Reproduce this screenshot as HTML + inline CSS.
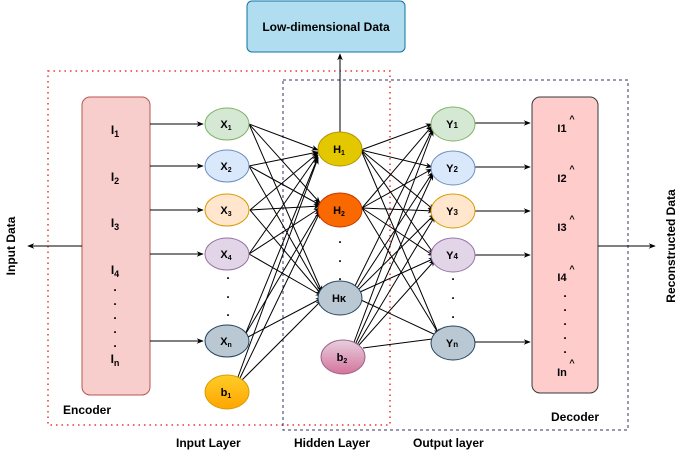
<!DOCTYPE html>
<html><head><meta charset="utf-8"><style>
body{margin:0;background:#fff;}
svg text{font-family:"Liberation Sans",sans-serif;font-weight:bold;}
</style></head><body>
<svg width="685" height="455" viewBox="0 0 685 455" xmlns="http://www.w3.org/2000/svg">
<defs>
<marker id="a" viewBox="0 0 10 10" refX="9" refY="5" markerWidth="7" markerHeight="7" orient="auto"><path d="M0,1 L10,5 L0,9 L3,5z" fill="#000"/></marker>
<linearGradient id="gb1" x1="0" y1="0" x2="0" y2="1"><stop offset="0" stop-color="#ffcd28"/><stop offset="1" stop-color="#ffa500"/></linearGradient>
<linearGradient id="gb2" x1="0" y1="0" x2="0" y2="1"><stop offset="0" stop-color="#e6d0de"/><stop offset="1" stop-color="#d5739d"/></linearGradient>
</defs>
<rect x="48" y="71" width="342" height="354" fill="none" stroke="#e33" stroke-width="1.5" stroke-dasharray="1.5,4"/>
<rect x="283" y="80" width="345" height="350" fill="none" stroke="#336" stroke-width="1" stroke-dasharray="3,3"/>
<rect x="247" y="1" width="158" height="51" rx="5" fill="#b1ddf0" stroke="#10739e" stroke-width="1"/>
<text x="326" y="31" font-size="12" text-anchor="middle">Low-dimensional Data</text>
<line x1="340" y1="132" x2="340" y2="54" stroke="#000" marker-end="url(#a)"/>
<rect x="82" y="97" width="68" height="298" rx="8" fill="#f8cecc" stroke="#b85450"/>
<rect x="532" y="97" width="66" height="296" rx="8" fill="#ffcccc" stroke="#36393d"/>
<line x1="82" y1="246" x2="28" y2="246" stroke="#000" marker-end="url(#a)"/>
<line x1="598" y1="246" x2="655" y2="246" stroke="#000" marker-end="url(#a)"/>
<text transform="translate(15,246) rotate(-90)" font-size="12" text-anchor="middle">Input Data</text>
<text transform="translate(675,246) rotate(-90)" font-size="12" text-anchor="middle">Reconstructed Data</text>
<g stroke="#000" stroke-width="1" fill="none" marker-end="url(#a)">
<line x1="150" y1="124" x2="203" y2="124"/>
<line x1="150" y1="166" x2="203" y2="166"/>
<line x1="150" y1="210" x2="203" y2="210"/>
<line x1="150" y1="254" x2="203" y2="254"/>
<line x1="150" y1="341" x2="203" y2="341"/>
<line x1="475" y1="123" x2="530" y2="123"/>
<line x1="475" y1="167" x2="530" y2="167"/>
<line x1="475" y1="211" x2="530" y2="211"/>
<line x1="475" y1="255" x2="530" y2="255"/>
<line x1="475" y1="342" x2="530" y2="342"/>
<path d="M249,124L318,150"/><path d="M249,124L320,203"/><path d="M249,124L322,292"/>
<path d="M249,166L318,152"/><path d="M249,166L320,205"/><path d="M249,166L322,294"/>
<path d="M250,210L318,153"/><path d="M250,210L320,206"/><path d="M250,210L322,295"/>
<path d="M249,254L318,155"/><path d="M249,254L320,208"/><path d="M249,254L322,296"/>
<path d="M245,335L318,157"/><path d="M245,335L320,210"/><path d="M248,337L322,298"/>
<path d="M238,377L318,158"/><path d="M240,378L320,212"/><path d="M242,380L322,300"/>
<path d="M361,150L432,124"/><path d="M361,150L432,167"/><path d="M361,150L434,210"/><path d="M361,150L434,254"/><path d="M361,150L439,335"/>
<path d="M362,208L432,126"/><path d="M362,208L432,169"/><path d="M362,208L434,211"/><path d="M362,208L434,256"/><path d="M362,208L440,336"/>
<path d="M355,286L433,128"/><path d="M357,288L433,172"/><path d="M358,290L435,214"/><path d="M360,292L435,258"/><path d="M361,300L440,337"/>
<path d="M353,345L433,130"/><path d="M355,345L433,174"/><path d="M357,345L435,216"/><path d="M359,345L435,260"/><path d="M363,348L440,338"/>
</g>
<g stroke-width="1">
<ellipse cx="227" cy="124" rx="22" ry="16" fill="#d5e8d4" stroke="#82b366"/>
<ellipse cx="227" cy="166" rx="22" ry="16" fill="#dae8fc" stroke="#6c8ebf"/>
<ellipse cx="227" cy="210" rx="22" ry="16" fill="#ffe6cc" stroke="#d79b00"/>
<ellipse cx="227" cy="254" rx="22" ry="16" fill="#e1d5e7" stroke="#9673a6"/>
<ellipse cx="227" cy="341" rx="22" ry="16" fill="#bac8d3" stroke="#23445d"/>
<ellipse cx="227" cy="392" rx="22" ry="17" fill="url(#gb1)" stroke="#d79b00"/>
<ellipse cx="340" cy="149" rx="22" ry="17" fill="#e3c800" stroke="#b09500"/>
<ellipse cx="340" cy="210" rx="22" ry="17" fill="#fa6800" stroke="#c73500"/>
<ellipse cx="340" cy="298" rx="22" ry="17" fill="#bac8d3" stroke="#23445d"/>
<ellipse cx="343" cy="357" rx="22" ry="17" fill="url(#gb2)" stroke="#996185"/>
<ellipse cx="453" cy="124" rx="22" ry="17" fill="#d5e8d4" stroke="#82b366"/>
<ellipse cx="453" cy="168" rx="22" ry="17" fill="#dae8fc" stroke="#6c8ebf"/>
<ellipse cx="453" cy="211" rx="22" ry="17" fill="#ffe6cc" stroke="#d79b00"/>
<ellipse cx="453" cy="255" rx="22" ry="17" fill="#e1d5e7" stroke="#9673a6"/>
<ellipse cx="453" cy="343" rx="22" ry="17" fill="#bac8d3" stroke="#23445d"/>
</g>
<g font-size="11" text-anchor="middle">
<text x="226" y="128">X<tspan font-size="7" dy="2">1</tspan></text>
<text x="226" y="170">X<tspan font-size="7" dy="2">2</tspan></text>
<text x="226" y="214">X<tspan font-size="7" dy="2">3</tspan></text>
<text x="226" y="258">X<tspan font-size="7" dy="2">4</tspan></text>
<text x="226" y="345">X<tspan font-size="7" dy="2">n</tspan></text>
<text x="226" y="396">b<tspan font-size="7" dy="2">1</tspan></text>
<text x="339" y="153">H<tspan font-size="7" dy="2">1</tspan></text>
<text x="339" y="214">H<tspan font-size="7" dy="2">2</tspan></text>
<text x="339" y="302">Hκ</text>
<text x="342" y="361">b<tspan font-size="7" dy="2">2</tspan></text>
<text x="452" y="128">Y<tspan font-size="8">1</tspan></text>
<text x="452" y="172">Y<tspan font-size="8">2</tspan></text>
<text x="452" y="215">Y<tspan font-size="8">3</tspan></text>
<text x="452" y="259">Y<tspan font-size="8">4</tspan></text>
<text x="452" y="347">Y<tspan font-size="8">n</tspan></text>
</g>
<g font-size="12" text-anchor="middle">
<text x="115" y="134">I<tspan font-size="9" dy="3">1</tspan></text>
<text x="115" y="181">I<tspan font-size="9" dy="3">2</tspan></text>
<text x="115" y="227">I<tspan font-size="9" dy="3">3</tspan></text>
<text x="115" y="274">I<tspan font-size="9" dy="3">4</tspan></text>
<text x="115" y="363">I<tspan font-size="9" dy="3">n</tspan></text>
<text x="115" y="291">.</text><text x="115" y="305">.</text><text x="115" y="319">.</text><text x="115" y="333">.</text><text x="115" y="347">.</text>
<text x="562" y="132" font-size="11">I1</text><text x="572" y="122" font-size="9">^</text>
<text x="562" y="182" font-size="11">I2</text><text x="572" y="172" font-size="9">^</text>
<text x="562" y="231" font-size="11">I3</text><text x="572" y="222" font-size="9">^</text>
<text x="562" y="281" font-size="11">I4</text><text x="572" y="272" font-size="9">^</text>
<text x="562" y="376" font-size="11">In</text><text x="572" y="366" font-size="9">^</text>
<text x="565" y="297">.</text><text x="565" y="311">.</text><text x="565" y="325">.</text><text x="565" y="339">.</text><text x="565" y="353">.</text>
<text x="228" y="279">.</text><text x="228" y="298">.</text><text x="228" y="316">.</text>
<text x="340" y="243">.</text><text x="340" y="262">.</text><text x="340" y="280">.</text>
<text x="453" y="280">.</text><text x="453" y="299">.</text><text x="453" y="318">.</text>
</g>
<g font-size="12">
<text x="63" y="414">Encoder</text>
<text x="551" y="421">Decoder</text>
<text x="176" y="447">Input Layer</text>
<text x="294" y="447">Hidden Layer</text>
<text x="413" y="447">Output layer</text>
</g>
</svg>
</body></html>
